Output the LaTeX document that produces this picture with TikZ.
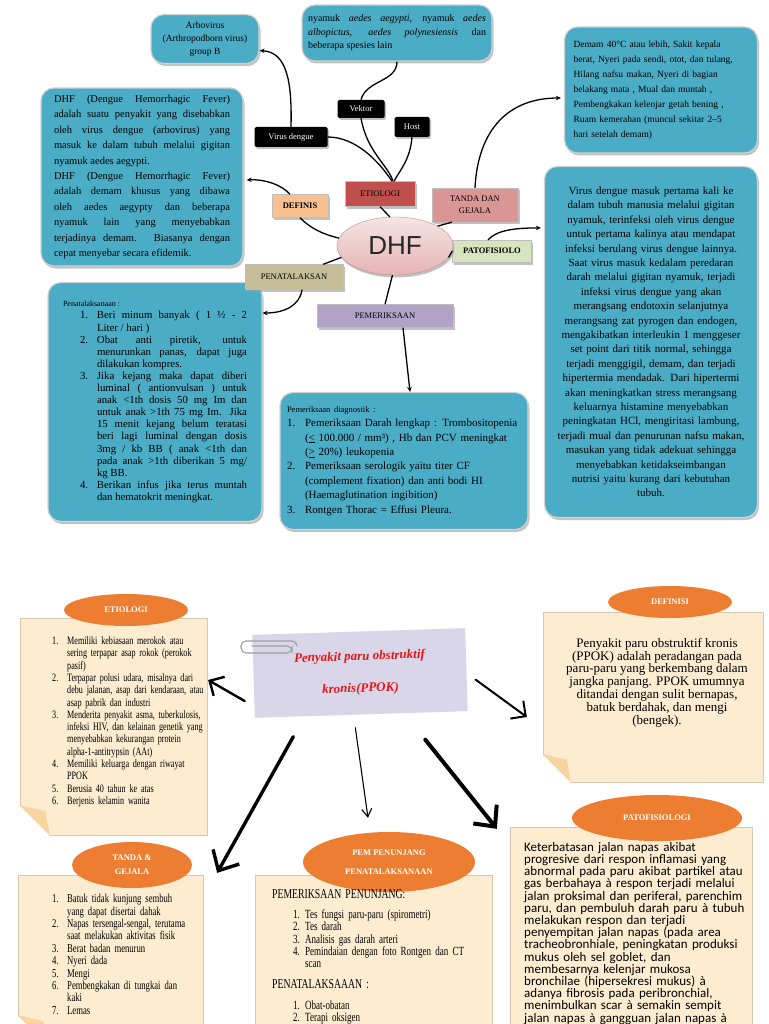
\documentclass[tikz,border=0pt]{standalone}
\usepackage{fontspec}
\setmainfont{Liberation Serif}
\newfontfamily\condfont[FakeStretch=0.72]{Liberation Serif}
\newfontfamily\calfont{Carlito}
\newfontfamily\dhfsans{Liberation Sans}
\usetikzlibrary{shapes.geometric,shadows,arrows.meta,calc}
\definecolor{tealc}{RGB}{75,172,198}
\definecolor{creamc}{RGB}{253,236,208}
\definecolor{foldc}{RGB}{247,212,160}
\definecolor{orangec}{RGB}{237,125,49}
\definecolor{lavc}{RGB}{217,214,234}
\definecolor{etc}{RGB}{192,80,77}
\definecolor{defc}{RGB}{250,192,144}
\definecolor{tgc}{RGB}{217,150,148}
\definecolor{patc}{RGB}{215,228,189}
\definecolor{penc}{RGB}{196,189,151}
\definecolor{pemc}{RGB}{179,162,199}
\definecolor{dhfA}{RGB}{246,228,228}
\definecolor{dhfB}{RGB}{230,180,180}
\definecolor{redtxt}{RGB}{235,20,20}
\newcommand\fs[2]{\fontsize{#1}{#2}\selectfont}
\newcommand\itm[2]{\par\hangindent=#1\hangafter=1\noindent\hbox to #1{#2\hfil}}
\newcommand\foldcorner[2]{%
  \fill[white] ($(#1.south west)+(-1,1)$) -- ($(#1.south west)+(-1,-#2)$) -- ($(#1.south west)+(#2,1)$) -- cycle;
  \fill[foldc] ($(#1.south west)+(0,-#2)$) -- ($(#1.south west)+(#2,0)$) -- ($(#1.south west)+(0.85*#2,-0.8*#2)$) -- cycle;}
\tikzset{
 tealbox/.style={rectangle, rounded corners=13pt, fill=tealc, draw=white!82!black, line width=1.2pt,
   drop shadow={shadow xshift=1.5pt, shadow yshift=-2.5pt, fill=black!40, opacity=0.6}, inner sep=3pt},
 blklabel/.style={rectangle, fill=black, text=white, rounded corners=1.5pt, font=\fs{8.5}{10}, inner sep=1pt,
   drop shadow={shadow xshift=1.5pt, shadow yshift=-2pt, fill=black!40, opacity=0.6}},
 tagbox/.style={rectangle, draw=black!25, line width=0.4pt, font=\fs{8.5}{12}, align=center, inner sep=1pt,
   drop shadow={shadow xshift=1.5pt, shadow yshift=-2.5pt, fill=black!40, opacity=0.6}},
 link/.style={draw=black, line width=1.3pt},
 arrlink/.style={link, -{Stealth[length=5pt, width=4.5pt]}},
 notebox/.style={rectangle, fill=creamc, draw=creamc!85!black, line width=0.3pt, inner sep=0pt},
 orangeoval/.style={ellipse, fill=orangec, text=white, font=\fs{8.5}{19}\bfseries, align=center, inner sep=0pt},
 handarr/.style={draw=black, line cap=round},
}
\begin{document}
\begin{tikzpicture}[x=1pt,y=-1pt]
\useasboundingbox (0,0) rectangle (768,1024);
\clip (0,0) rectangle (768,1024);
\fill[white] (0,0) rectangle (768,1024);

% ---------------- top half: DHF ----------------
\node[tealbox, minimum width=108pt, minimum height=49pt, align=center, font=\fs{9.5}{13}] (arb) at (205,39)
  {Arbovirus\\(Arthropodborn virus)\\group B};
\node[tealbox, minimum width=190pt, minimum height=56pt, text width=178pt, align=justify, font=\fs{10}{13.5}] (vecbox) at (397,33)
  {nyamuk \textit{aedes aegypti}, nyamuk \textit{aedes}\linebreak \textit{albopictus, aedes polynesiensis} dan\linebreak beberapa spesies lain\par};
\node[tealbox, minimum width=202pt, minimum height=178pt, text width=176pt, align=justify, font=\fs{10.5}{15.4}] (def) at (142,177)
  {DHF (Dengue Hemorrhagic Fever)\linebreak adalah suatu penyakit yang disebabkan\linebreak oleh virus dengue (arbovirus) yang\linebreak masuk ke dalam tubuh melalui gigitan\linebreak nyamuk aedes aegypti.\par
   DHF (Dengue Hemorrhagic Fever)\linebreak adalah demam khusus yang dibawa\linebreak oleh aedes aegypty dan beberapa\linebreak nyamuk lain yang menyebabkan\linebreak terjadinya demam. Biasanya dengan\linebreak cepat menyebar secara efidemik.\par};
\node[tealbox, minimum width=193pt, minimum height=126pt, text width=175pt, align=left, font=\fs{9.5}{15}] (symp) at (661,90)
  {Demam 40°C atau lebih, Sakit kepala\\ berat, Nyeri pada sendi, otot, dan tulang,\\ Hilang nafsu makan, Nyeri di bagian\\ belakang mata , Mual dan muntah ,\\ Pembengkakan kelenjar getah bening ,\\ Ruam kemerahan (muncul sekitar 2–5\\ hari setelah demam)};
\node[tealbox, minimum width=213pt, minimum height=351pt, text width=205pt, align=center, font=\fs{11}{14.4}] (patbox) at (651,342)
  {Virus dengue masuk pertama kali ke\\ dalam tubuh manusia melalui gigitan\\ nyamuk, terinfeksi oleh virus dengue\\ untuk pertama kalinya atau mendapat\\ infeksi berulang virus dengue lainnya.\\ Saat virus masuk kedalam peredaran\\ darah melalui gigitan nyamuk, terjadi\\ infeksi virus dengue yang akan\\ merangsang endotoxin selanjutnya\\ merangsang zat pyrogen dan endogen,\\ mengakibatkan interleukin 1 menggeser\\ set point dari titik normal, sehingga\\ terjadi menggigil, demam, dan terjadi\\ hipertermia mendadak. Dari hipertermi\\ akan meningkatkan stress merangsang\\ keluarnya histamine menyebabkan\\ peningkatan HCl, mengiritasi lambung,\\ terjadi mual dan penurunan nafsu makan,\\ masukan yang tidak adekuat sehingga\\ menyebabkan ketidakseimbangan\\ nutrisi yaitu kurang dari kebutuhan\\ tubuh.};
\node[tealbox, minimum width=214pt, minimum height=239pt, text width=184pt, align=justify, font=\fs{10.8}{12.1}] (pen) at (155,402)
  {{\fs{8}{10}Penatalaksanaan :}\par\leftskip=17pt
   \itm{17pt}{1.}Beri minum banyak ( 1 ½ - 2\linebreak Liter / hari )
   \itm{17pt}{2.}Obat anti piretik, untuk\linebreak menurunkan panas, dapat juga\linebreak dilakukan kompres.
   \itm{17pt}{3.}Jika kejang maka dapat diberi\linebreak luminal ( antionvulsan ) untuk\linebreak anak <1th dosis 50 mg Im dan\linebreak untuk anak >1th 75 mg Im. Jika\linebreak 15 menit kejang belum teratasi\linebreak beri lagi luminal dengan dosis\linebreak 3mg / kb BB ( anak <1th dan\linebreak pada anak >1th diberikan 5 mg/\linebreak kg BB.
   \itm{17pt}{4.}Berikan infus jika terus muntah\linebreak dan hematokrit meningkat.\par};
\node[tealbox, minimum width=248pt, minimum height=137pt, text width=234pt, align=left, font=\fs{11}{14.4}] (diag) at (404,461)
  {{\fs{8.5}{10}Pemeriksaan diagnostik :}
   \itm{18pt}{1.}Pemeriksaan Darah lengkap : Trombositopenia\newline (\underline{<} 100.000 / mm³) , Hb dan PCV meningkat\newline (\underline{>} 20\%) leukopenia
   \itm{18pt}{2.}Pemeriksaan serologik yaitu titer CF\newline (complement fixation) dan anti bodi HI\newline (Haemaglutination ingibition)
   \itm{18pt}{3.}Rontgen Thorac = Effusi Pleura.\par};

\node[blklabel, minimum width=73pt, minimum height=20pt] (vd) at (291,137) {Virus dengue};
\node[blklabel, minimum width=47pt, minimum height=18pt] (vek) at (361,109) {Vektor};
\node[blklabel, minimum width=35pt, minimum height=20pt] (host) at (412,127) {Host};

\node[tagbox, fill=etc, minimum width=70pt, minimum height=25pt] (eti) at (380,194) {ETIOLOGI};
\node[tagbox, fill=defc, minimum width=56pt, minimum height=23pt, font=\fs{8.5}{12}\bfseries] (defn) at (300,206) {DEFINIS};
\node[tagbox, fill=tgc, minimum width=86pt, minimum height=34pt] (tg) at (475,205) {TANDA DAN\\GEJALA};
\node[tagbox, fill=patc, minimum width=79pt, minimum height=22pt, font=\fs{8.5}{12}\bfseries] (pato) at (492,251) {PATOFISIOLO};
\node[tagbox, fill=penc, minimum width=98pt, minimum height=25pt] (pena) at (294,277) {PENATALAKSAN};
\node[tagbox, fill=pemc, minimum width=136pt, minimum height=23pt] (pem) at (385,316) {PEMERIKSAAN};

\node[ellipse, minimum width=116pt, minimum height=58pt, top color=dhfA, bottom color=dhfB, draw=dhfB!80!black, line width=0.4pt,
  font=\dhfsans\fs{26}{28}, text=black!85, drop shadow={shadow xshift=1.5pt, shadow yshift=-2.5pt, fill=black!40, opacity=0.6}] (dhf) at (395,246) {DHF};

\draw[arrlink] (vd.north) .. controls (292,85) and (288,52) .. (arb.-12);
\draw[link] (vd.east) .. controls (355,137) and (378,160) .. ($(eti.north)+(12,0)$);
\draw[link] (vecbox.south) .. controls (397,82) and (366,80) .. (vek.north);
\draw[link] (vek.south) .. controls (367,152) and (388,165) .. ($(eti.north)+(13,0)$);
\draw[link] (host.south) .. controls (410,160) and (400,170) .. ($(eti.north)+(14,0)$);
\draw[link] (eti.south) -- (dhf.100);
\draw[link] (dhf.172) .. controls (322,234) and (310,228) .. (defn.south);
\draw[arrlink] ($(defn.north)+(-10,0)$) .. controls (282,185) and (265,179) .. ($(def.east)+(3,3)$);
\draw[link] (dhf.25) -- ($(tg.south west)+(20,0)$);
\draw[arrlink] (tg.north) .. controls (478,130) and (508,98) .. ($(symp.west)+(-3,8)$);
\draw[link] (dhf.-12) -- (pato.west);
\draw[arrlink] ($(pato.north)+(-4,0)$) .. controls (497,230) and (515,228) .. ($(patbox.north west)+(-3,62)$);
\draw[link] (dhf.192) -- ($(pena.north east)+(-20,0)$);
\draw[arrlink] ($(pena.south)+(8,0)$) .. controls (300,305) and (285,313) .. ($(pen.east)+(0,-89)$);
\draw[link] (dhf.265) -- (pem.north);
\draw[arrlink] ($(pem.south)+(18,0)$) -- ($(diag.north)+(6,0)$);

% ---------------- bottom half: PPOK ----------------
\node[notebox, minimum width=187pt, minimum height=217pt] (etinote) at (113.5,726.5) {};
\foldcorner{etinote}{30}
\node[notebox, minimum width=220pt, minimum height=170pt] (defnote) at (653,697) {};
\foldcorner{defnote}{28}
\node[notebox, minimum width=185pt, minimum height=170pt] (tgnote) at (110.5,960) {};
\foldcorner{tgnote}{30}
\node[notebox, minimum width=237pt, minimum height=165pt] (pemnote) at (373.5,957.5) {};
\node[notebox, minimum width=242pt, minimum height=213pt] (patnote) at (631,933.5) {};

\node[orangeoval, minimum width=124pt, minimum height=32pt] (etiov) at (126,610) {ETIOLOGI};
\node[orangeoval, minimum width=124pt, minimum height=32pt] (defov) at (670,602) {DEFINISI};
\node[orangeoval, minimum width=120pt, minimum height=46pt, font=\fs{8.5}{14}\bfseries] (tgov) at (132,865) {TANDA \&\\GEJALA};
\node[orangeoval, minimum width=172pt, minimum height=60pt] (pemov) at (389,862) {PEM PENUNJANG\\PENATALAKSANAAN};
\node[orangeoval, minimum width=170pt, minimum height=46pt] (patov) at (657,818) {PATOFISIOLOGI};

\node[anchor=north west, inner sep=0pt, text width=160pt, align=left, font=\condfont\fs{11.3}{12.3}] (etitxt) at (52,632)
  {\itm{15pt}{1.}Memiliki kebiasaan merokok atau\newline sering terpapar asap rokok (perokok\newline pasif)
   \itm{15pt}{2.}Terpapar polusi udara, misalnya dari\newline debu jalanan, asap dari kendaraan, atau\newline asap pabrik dan industri
   \itm{15pt}{3.}Menderita penyakit asma, tuberkulosis,\newline infeksi HIV, dan kelainan genetik yang\newline menyebabkan kekurangan protein\newline alpha-1-antitrypsin (AAt)
   \itm{15pt}{4.}Memiliki keluarga dengan riwayat\newline PPOK
   \itm{15pt}{5.}Berusia 40 tahun ke atas
   \itm{15pt}{6.}Berjenis kelamin wanita\par};
\node[anchor=north, inner sep=0pt, align=center, font=\fs{13}{12.8}] (deftxt) at (657,638)
  {Penyakit paru obstruktif kronis\\(PPOK) adalah peradangan pada\\paru-paru yang berkembang dalam\\jangka panjang. PPOK umumnya\\ditandai dengan sulit bernapas,\\batuk berdahak, dan mengi\\(bengek).};
\node[anchor=north west, inner sep=0pt, text width=160pt, align=left, font=\condfont\fs{12}{12.4}] (tgtxt) at (52,890)
  {\itm{15pt}{1.}Batuk tidak kunjung sembuh\newline yang dapat disertai dahak
   \itm{15pt}{2.}Napas tersengal-sengal, terutama\newline saat melakukan aktivitas fisik
   \itm{15pt}{3.}Berat badan menurun
   \itm{15pt}{4.}Nyeri dada
   \itm{15pt}{5.}Mengi
   \itm{15pt}{6.}Pembengkakan di tungkai dan\newline kaki
   \itm{15pt}{7.}Lemas\par};
\node[anchor=north west, inner sep=0pt, text width=220pt, align=left, font=\condfont\fs{12.5}{12.3}] (pemtxt) at (272,889)
  {{\fs{13.5}{12.3}PEMERIKSAAN PENUNJANG:}\par\vskip 8pt\leftskip=21pt
   \itm{12pt}{1.}Tes fungsi paru-paru (spirometri)
   \itm{12pt}{2.}Tes darah
   \itm{12pt}{3.}Analisis gas darah arteri
   \itm{12pt}{4.}Pemindaian dengan foto Rontgen dan CT\newline scan\par\vskip 9pt\leftskip=0pt
   {\fs{13.5}{12.3}PENATALAKSAAAN :}\par\vskip 8pt\leftskip=21pt
   \itm{12pt}{1.}Obat-obatan
   \itm{12pt}{2.}Terapi oksigen\par};
\node[anchor=north west, inner sep=0pt, text width=235pt, align=left, font=\calfont\fs{13}{12.2}] (pattxt) at (524,842)
  {Keterbatasan jalan napas akibat\\ progresive dari respon inflamasi yang\\ abnormal pada paru akibat partikel atau\\ gas berbahaya à respon terjadi melalui\\ jalan proksimal dan periferal, parenchim\\ paru, dan pembuluh darah paru à tubuh\\ melakukan respon dan terjadi\\ penyempitan jalan napas (pada area\\ tracheobronhiale, peningkatan produksi\\ mukus oleh sel goblet, dan\\ membesarnya kelenjar mukosa\\ bronchilae (hipersekresi mukus) à\\ adanya fibrosis pada peribronchial,\\ menimbulkan scar à semakin sempit\\ jalan napas à gangguan jalan napas à};

\node[fill=lavc, rotate=1.8, minimum width=213pt, minimum height=83pt, align=center, text=redtxt,
  font=\fs{13}{32}\bfseries\itshape] (ppok) at (360,673) {Penyakit paru obstruktif\\kronis(PPOK)};
\draw[gray!75, line width=1.1pt, line cap=round, rounded corners=5pt] (297,646) -- (297,641) -- (241,641) -- (241,653) -- (292,653) -- (292,646) -- (252,646);

\draw[handarr, line width=2.4pt, -{Straight Barb[length=11pt, width=22pt]}] ($(ppok.south west)+(-10,-17)$) -- ($(etinote.east)+(1,-46.5)$);
\draw[handarr, line width=2pt, -{Straight Barb[length=11pt, width=22pt]}] ($(ppok.east)+(9,10)$) -- ($(defnote.west)+(-16,20)$);
\draw[handarr, line width=3.4pt, -{Straight Barb[length=16pt, width=30pt]}] ($(ppok.south)+(-68,22)$) -- ($(tgnote.north east)+(14,-2)$);
\draw[handarr, line width=1.1pt, -{Straight Barb[length=8pt, width=10pt]}] ($(ppok.south)+(-6,13)$) -- ($(pemov.north)+(-21,-14)$);
\draw[handarr, line width=4pt, -{Straight Barb[length=16pt, width=30pt]}] ($(ppok.south)+(64,25)$) -- ($(patnote.north west)+(-13,2)$);
\end{tikzpicture}
\end{document}
